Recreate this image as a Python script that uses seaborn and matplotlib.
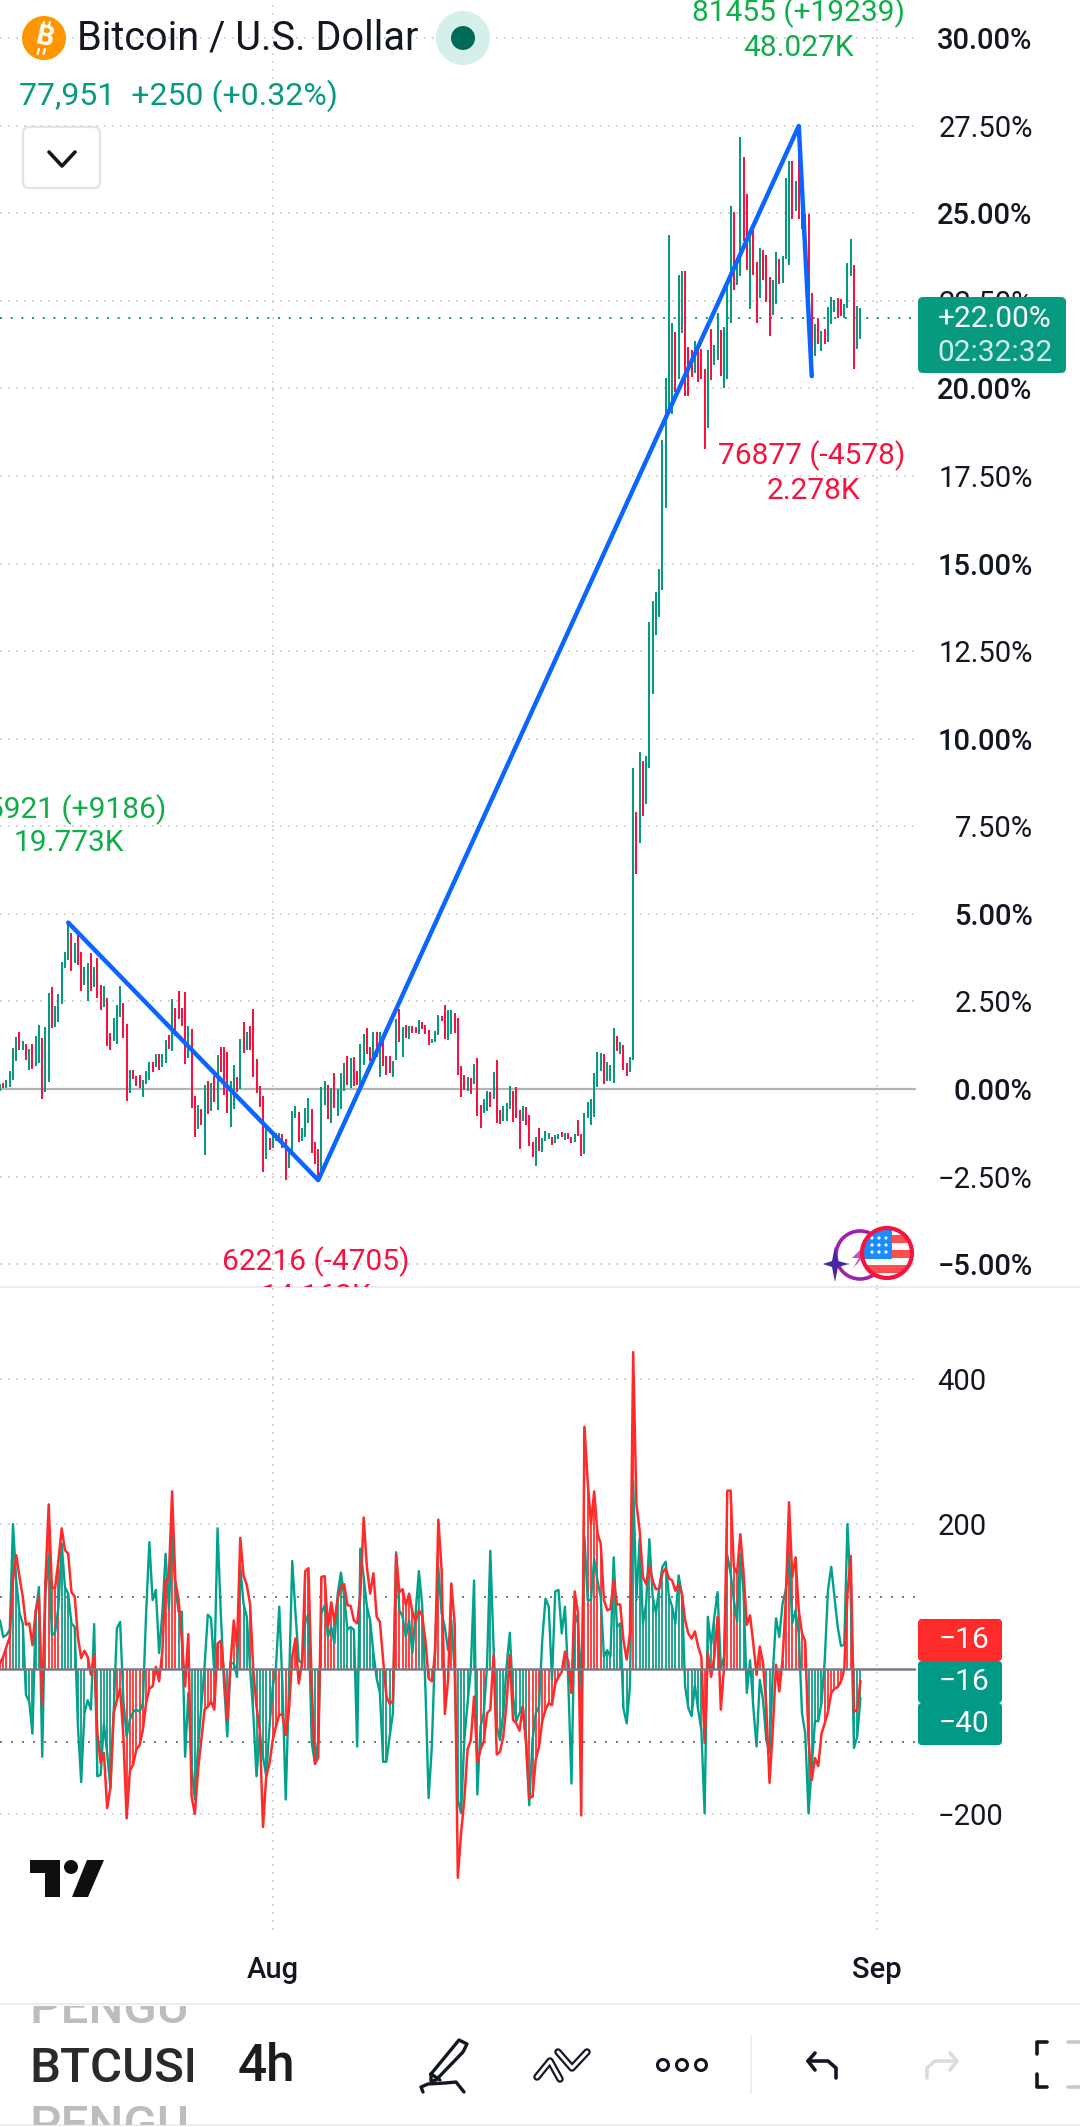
import numpy as np
import seaborn as sns
import matplotlib.pyplot as plt
from matplotlib.lines import Line2D
from matplotlib.patches import Circle, FancyBboxPatch, Polygon, Rectangle
from matplotlib.transforms import Affine2D

W, H = 1080, 2127

# 4h bars, percent from the chart origin
bar_high = [0.13,0.17,0.26,0.51,1.17,1.48,1.63,1.37,1.28,1.14,
            1.28,1.51,1.83,1.46,1.77,2.74,2.91,2.37,2.71,3.63,
            3.91,4.75,4.45,4.17,4.40,3.91,3.48,3.60,3.88,3.48,
            3.74,2.97,2.94,2.60,1.60,2.03,2.40,2.94,2.45,1.86,
            0.54,0.54,0.37,0.40,0.26,0.51,0.77,0.77,1.00,1.00,
            1.00,1.40,1.54,2.57,2.31,2.80,2.31,2.77,1.80,1.71,
            -0.20,-0.46,-0.57,0.11,0.23,0.17,0.37,0.97,1.20,1.20,
            1.06,0.23,0.69,0.34,1.43,1.91,1.63,1.80,2.28,0.86,
            0.09,-0.20,-1.00,-1.40,-1.28,-1.26,-1.26,-1.28,-1.43,-1.68,
            -0.63,-0.49,-0.66,-1.11,-0.54,-0.26,-0.57,-1.51,-1.71,0.06,
            0.23,0.11,0.03,0.46,0.00,0.46,0.74,0.94,0.88,0.91,
            0.51,1.28,1.57,1.74,1.20,1.63,1.63,1.63,1.43,0.94,
            0.94,0.80,2.00,2.28,1.77,1.83,1.80,1.80,1.77,1.97,
            1.91,1.83,1.68,1.43,1.66,2.11,2.08,2.40,2.26,2.26,
            2.17,2.03,0.66,0.40,0.34,0.31,0.71,0.88,-0.46,-0.29,
            -0.06,-0.09,0.49,0.83,-0.60,-0.49,-0.40,0.09,-0.06,0.06,
            -0.60,-0.49,-0.51,-0.74,-1.51,-1.37,-1.11,-1.40,-1.20,-1.26,
            -1.37,-1.31,-1.28,-1.23,-1.26,-1.26,-1.37,-1.28,-0.88,-1.28,
            -0.69,-0.37,-0.29,0.46,1.06,1.03,1.00,0.77,0.69,1.74,
            1.51,1.34,1.26,0.74,0.91,9.16,7.90,9.62,9.36,9.50,
            13.33,13.93,14.19,14.84,18.53,20.30,24.38,21.87,21.61,23.24,
            23.35,23.35,21.18,21.09,21.35,21.24,21.12,20.55,21.09,21.69,
            21.24,22.15,21.67,21.75,22.95,25.20,25.03,23.72,27.17,26.60,
            25.55,24.49,24.52,23.61,24.01,23.95,23.81,23.18,23.09,23.89,
            23.69,23.78,26.00,26.49,26.49,25.92,27.49,25.20,24.98,24.98,
            22.72,21.84,22.01,21.64,21.69,22.32,22.61,22.52,22.58,22.55,
            22.41,23.58,24.26,23.52,22.35,22.29]
bar_low = [-0.05,0.02,0.02,0.06,0.26,0.80,1.11,1.11,0.83,0.54,
           0.57,0.67,0.74,-0.29,-0.09,0.20,1.74,1.77,1.91,2.43,
           3.45,3.68,3.37,3.60,3.54,2.80,2.97,2.51,2.80,2.91,
           2.60,2.26,2.34,1.23,1.11,1.37,1.28,2.06,1.46,-0.34,
           -0.11,0.29,0.09,0.03,-0.23,0.14,0.26,0.49,0.63,0.54,
           0.63,0.74,1.14,1.08,1.51,2.00,1.80,0.71,0.88,-0.54,
           -1.37,-1.14,-1.03,-1.88,-0.71,-0.63,-0.37,-0.60,0.49,-0.17,
           -0.69,-1.08,-0.57,-0.09,0.00,1.03,1.11,1.11,0.34,-0.11,
           -0.51,-2.37,-2.00,-1.74,-1.68,-1.48,-1.48,-1.68,-2.60,-2.26,
           -1.86,-0.83,-1.51,-1.48,-1.37,-0.97,-1.83,-2.14,-2.60,-2.41,
           -0.46,-0.86,-0.97,-0.54,-0.77,-0.57,-0.06,0.11,0.03,0.09,
           0.11,-0.09,0.69,1.00,0.80,0.88,0.91,0.34,0.66,0.40,
           0.46,0.34,0.83,1.34,0.91,1.46,1.43,1.60,1.60,1.57,
           1.71,1.57,1.26,1.31,1.34,1.54,1.94,1.43,1.40,1.57,
           1.60,0.40,-0.23,-0.03,-0.06,-0.14,0.14,-0.77,-1.11,-0.69,
           -0.63,-0.51,-0.29,-0.97,-1.00,-0.91,-0.91,-0.57,-0.94,-0.83,
           -1.71,-0.91,-1.03,-1.63,-1.94,-2.20,-1.77,-1.80,-1.48,-1.43,
           -1.60,-1.54,-1.43,-1.37,-1.46,-1.43,-1.54,-1.51,-1.34,-1.91,
           -1.86,-0.83,-1.03,-0.80,0.06,0.51,0.14,0.23,0.23,0.17,
           1.08,1.00,0.54,0.37,0.49,0.83,6.14,7.02,7.79,8.14,
           9.16,11.28,12.96,13.47,14.25,16.60,19.33,19.27,19.90,20.27,
           21.58,19.78,19.78,20.32,20.44,20.18,20.27,18.27,18.87,20.24,
           20.67,20.81,20.35,20.01,20.27,21.87,22.81,22.95,23.21,24.21,
           23.38,22.26,23.24,21.87,22.58,23.09,22.46,21.49,22.09,22.41,
           22.98,23.01,23.69,23.52,24.83,25.06,24.83,24.55,23.72,22.55,
           20.35,20.92,21.27,21.07,21.27,21.32,21.84,22.18,22.01,22.06,
           22.01,22.29,23.21,20.55,21.12,21.40]
bar_dir = ("GRGGGGRGRG" "RGGRGGRGGG" "GGRGRRGGRG" "RRGRRGGGRR" "GRRRGGGRGR"
           "GGRGRRRRGR" "RGRGRGRGRR" "RGGRGRGRRR" "RRGRGGGRRG" "GGRGGGRRRG"
           "GRGRGGGRGR" "RGGRRGRGRR" "RGGRGRGRRG" "RRRGGGRRGG" "RRRRGRGRRG"
           "GRGRRGGGRR" "RGRRRGRGGG" "RGGRGRRGRR" "GGGGGGRGGG" "RGRRGGRGRG"
           "GGGGGGGGRG" "GRRRGRRRGR" "GGRGGGRGGR" "RGRRGRRRGG" "RGGGRGRRRR"
           "RGRGRGGGRR" "GGGRGG")

zigzag_bars = [22, 99, 247, 251]
zigzag_pct = [4.75, -2.60, 27.49, 20.35]
current_pct = 22.0

osc_green = [67,44,47,54,200,122,77,63,-36,-45,
             -89,77,113,-121,104,157,46,51,86,173,
             113,104,63,58,-79,-156,-61,-43,-56,62,
             -148,-146,-75,-116,-164,-61,56,65,-43,-93,
             -70,-59,-56,-59,-47,77,175,95,109,22,
             77,159,83,184,113,79,79,-121,-33,-134,
             -180,-107,-52,3,75,70,-6,194,77,-20,
             -93,8,8,-11,141,90,72,3,-61,-148,
             -89,-121,-148,-79,-24,3,86,-24,-180,-24,
             149,77,12,8,63,77,-102,-130,-98,77,
             88,44,58,35,104,133,100,54,58,54,
             -107,166,127,86,67,22,-13,-33,-128,-128,
             -93,-61,161,81,72,44,67,22,77,135,
             90,-24,-178,-107,31,140,77,58,26,67,
             -1,-180,-199,-98,-47,-1,122,-173,-79,-61,
             5,163,31,-79,-98,-61,3,50,-38,-72,
             -61,-52,-98,-188,-98,-61,-52,40,97,86,
             -15,107,109,49,86,-15,-158,77,63,-24,
             182,95,95,152,122,100,17,26,17,154,
             58,63,-54,-75,-24,260,95,180,63,90,
             179,100,77,111,141,148,100,86,63,129,
             104,-24,-54,-65,-22,-56,-84,-199,72,33,
             72,106,1,17,157,132,95,65,159,104,
             -33,12,-52,-107,-15,-43,-98,-116,-6,70,
             44,90,109,159,63,81,49,-61,-89,-199,
             -134,-72,-72,-47,12,109,141,100,58,32,
             33,200,104,-109,-93,-40]
osc_red = [8,17,31,44,122,157,127,100,61,63,
           33,81,99,-50,122,227,111,113,150,194,
           164,159,106,100,44,15,25,17,-8,19,
           -89,-130,-116,-192,-164,-61,-43,-27,-93,-206,
           -141,-132,-111,-105,-84,-47,-27,-24,3,-17,
           24,122,127,245,122,95,40,-24,48,-176,
           -200,-139,-98,-56,-52,-45,-56,35,39,-6,
           -70,8,67,31,181,129,116,90,-1,-52,
           -84,-218,-148,-130,-98,-79,-63,-63,-91,-56,
           17,42,-20,8,135,139,-24,-131,-122,127,
           128,58,92,65,97,114,117,88,87,67,
           63,104,209,140,104,132,72,65,12,-38,
           -48,-44,158,106,110,88,104,79,65,81,
           74,40,-13,-17,22,206,137,-62,-15,118,
           63,-288,-226,-180,-111,-98,-38,-128,-111,-100,
           -61,-56,19,-118,-114,-93,-47,19,-70,-75,
           -85,-52,-102,-178,-176,-125,-107,-72,-56,-47,
           -50,-20,-11,-4,24,10,-33,107,77,-202,
           334,258,200,245,187,173,95,81,83,122,
           89,89,40,13,49,437,228,191,127,117,
           141,122,110,111,132,139,125,122,108,117,
           104,67,49,42,52,31,17,-102,22,-11,
           17,72,-56,3,246,246,141,132,186,132,
           61,74,35,-8,31,8,-52,-157,-84,6,
           -31,12,95,230,127,154,81,49,38,-98,
           -153,-123,-134,-89,-75,-59,-33,-27,-25,-17,
           -1,104,156,-59,-56,-16]
# which series owns the column at each bar
column_owner = ("RRRRGGGGGG" "GGGGRRRRRG" "GGGGGGGRRR" "GGGGGRRRRR" "RRRRRRRRRR"
                "RRRRRGGRRG" "GGGRRRRRRG" "GGRRRGGRGG" "GGGGRRRRRR" "RRRRRRGGGR"
                "RRRRGGGGGG" "GGGGGGGGGG" "GGRRRRRRRG" "GGRRRRRRRR" "RGGGGGGRRR"
                "GGGGGGGRGG" "GGGRRRRRRR" "RRRRRRRRRR" "RRRRRRGGGG" "GGGGGRGGGG"
                "GGGGGGGGGG" "GGGGGGGRGG" "GRGGRRRRGG" "GGGRRRGGGR" "RRRRRRRRRG"
                "GGGGRRRRRR" "RRRGGG")

price_ticks = [30, 27.5, 25, 22.5, 20, 17.5, 15, 12.5, 10, 7.5, 5, 2.5, 0, -2.5, -5]
osc_ticks = [400, 200, -200]
osc_dark_levels = [100, -100]
month_bars = [85, 271]
month_labels = ["Aug", "Sep"]

GREEN = "#089981"
RED = "#f7123f"
LINE_RED = "#ff2a2a"
LINE_GREEN = "#00a28c"
GRID = "#d4d6db"
DARK = "#131722"

sns.set_theme(style="white")
plt.rcParams["font.family"] = ["Roboto", "DejaVu Sans"]

fig = plt.figure(figsize=(W / 100, H / 100), dpi=100)
# image pixels with y going down, for the app chrome around the plots
px = Affine2D().scale(1, -1).translate(0, H)

ax1 = fig.add_axes([0, 1 - 1287 / H, 916 / W, 1287 / H])
ax2 = fig.add_axes([0, 1 - 1930 / H, 916 / W, (1930 - 1288) / H])
bars = np.arange(1, len(bar_high) + 1)
xlim = (1, 1 + 916 / 3.247)


def dotted(ax, color=GRID):
    ax.grid(True, color=color, linewidth=1.44, linestyle=(0, (1, 3)), zorder=0)
    ax.set_axisbelow(True)


# --- price panel
ax1.vlines(bars, bar_low, bar_high, colors=[GREEN if d == "G" else RED for d in bar_dir],
           linewidth=1.45, zorder=3)
ax1.axhline(0, color="#b4b4b4", linewidth=1.6, zorder=2)
ax1.axhline(current_pct, color=GREEN, linewidth=1.4, linestyle=(0, (1, 4.5)), zorder=2)
sns.lineplot(x=zigzag_bars, y=zigzag_pct, ax=ax1, color="#0a66ff", linewidth=3.2,
             errorbar=None, sort=False, legend=False, zorder=4)
ax1.set_xlim(*xlim)
ax1.set_ylim(-198 / 35.03, 1089 / 35.03)
ax1.set_xticks(month_bars)
ax1.set_yticks(price_ticks)
ax1.set_xticklabels([])
ax1.set_yticklabels([("−" if v < 0 else "") + f"{abs(v):.2f}%" for v in price_ticks])
ax1.yaxis.tick_right()
ax1.tick_params(axis="both", length=0, labelsize=21, labelcolor=DARK)
ax1.tick_params(axis="y", pad=84)
for v, lab in zip(price_ticks, ax1.get_yticklabels()):
    lab.set_ha("right")
    lab.set_fontweight("medium" if v % 5 == 0 else "normal")
dotted(ax1)

# --- oscillator panel
g = np.array(osc_green)
r = np.array(osc_red)
owner_red = np.array([c == "R" for c in column_owner])
ax2.vlines(bars[~owner_red], 0, g[~owner_red], colors=GREEN, linewidth=1.25, zorder=2)
ax2.vlines(bars[owner_red], 0, r[owner_red], colors=LINE_RED, linewidth=1.25, zorder=2)
for lvl in osc_dark_levels:
    ax2.axhline(lvl, color="#787b86", linewidth=1.44, linestyle=(0, (1, 4.5)), zorder=1)
sns.lineplot(x=bars, y=g, ax=ax2, color=LINE_GREEN, linewidth=1.7, errorbar=None,
             sort=False, legend=False, zorder=3)
sns.lineplot(x=bars, y=r, ax=ax2, color=LINE_RED, linewidth=1.8, errorbar=None,
             sort=False, legend=False, zorder=4)
ax2.axhline(0, color="#787b86", linewidth=1.8, zorder=5)
ax2.set_xlim(*xlim)
ax2.set_ylim(-261 / 0.725, 381 / 0.725)
ax2.set_xticks(month_bars)
ax2.set_xticklabels(month_labels, fontweight="medium")
ax2.set_yticks(osc_ticks)
ax2.set_yticklabels([("−" if v < 0 else "") + str(abs(v)) for v in osc_ticks])
ax2.yaxis.tick_right()
ax2.tick_params(axis="y", length=0, pad=15.5, labelsize=21, labelcolor=DARK)
ax2.tick_params(axis="x", length=0, pad=19, labelsize=21, labelcolor=DARK)
dotted(ax2)

for ax in (ax1, ax2):
    sns.despine(ax=ax, left=True, right=True, top=True, bottom=True)
    ax.patch.set_alpha(0)


def put(x, y, s, **kw):
    kw.setdefault("ha", "center")
    kw.setdefault("va", "center")
    kw.setdefault("zorder", 6)
    return fig.text(x, y, s, transform=px, **kw)


def rect(x0, y0, x1, y1, color, round_px=0, **kw):
    kw.setdefault("zorder", 5)
    if round_px:
        p = FancyBboxPatch((x0, y0), x1 - x0, y1 - y0, boxstyle=f"round,pad=0,rounding_size={round_px}",
                           fc=color, ec=kw.pop("ec", "none"), lw=kw.pop("lw", 0), transform=px, **kw)
    else:
        p = Rectangle((x0, y0), x1 - x0, y1 - y0, fc=color, ec="none", transform=px, **kw)
    return fig.add_artist(p)


def stroke(xs, ys, color=DARK, lw=2.4, **kw):
    kw.setdefault("zorder", 6)
    kw.setdefault("solid_capstyle", "round")
    kw.setdefault("solid_joinstyle", "round")
    return fig.add_artist(Line2D(xs, ys, color=color, lw=lw, transform=px, **kw))


def disc(x, y, rad, color, **kw):
    kw.setdefault("zorder", 5)
    return fig.add_artist(Circle((x, y), rad, fc=color, ec=kw.pop("ec", "none"),
                                 lw=kw.pop("lw", 0), transform=px, **kw))


# --- header
disc(44, 38, 22, "#ff9600")
# no installed family has the bitcoin sign, so a tilted B with its two bars
put(44, 38, "B", color="white", fontsize=20, fontweight="bold", rotation=-12)
for x in (44, 50):
    stroke([x, x - 1.5], [22, 27], color="white", lw=1.6)
    stroke([x - 5, x - 6.5], [49, 54], color="white", lw=1.6)
put(77, 38, "Bitcoin / U.S. Dollar", ha="left", color=DARK, fontsize=28.5)
disc(463, 38, 27, "#d5f0ea")
disc(463, 38, 12, "#006b5a", zorder=6)
put(19, 96, "77,951  +250 (+0.32%)", ha="left", color=GREEN, fontsize=23)
rect(23, 127, 100, 188, "white", round_px=6, ec="#e0e3eb", lw=1.6)
stroke([49, 62, 75], [152, 166, 152], lw=2.6)

# --- pivot labels
PIVOT_UP = "#0fae4a"
PIVOT_DOWN = "#f7123f"
put(799, 13, "81455 (+19239)", color=PIVOT_UP, fontsize=21.5)
put(799, 48, "48.027K", color=PIVOT_UP, fontsize=21.5)
put(812, 456, "76877 (-4578)", color=PIVOT_DOWN, fontsize=21.5)
put(813, 491, "2.278K", color=PIVOT_DOWN, fontsize=21.5)
put(68, 810, "65921 (+9186)", color=PIVOT_UP, fontsize=21.5)
put(69, 843, "19.773K", color=PIVOT_UP, fontsize=21.5)
put(316, 1262, "62216 (-4705)", color=PIVOT_DOWN, fontsize=21.5)
t = put(316, 1297, "14.162K", color=PIVOT_DOWN, fontsize=21.5)
t.set_clip_path(Rectangle((0, 0), W, 1287, transform=px))

# --- last price tags
rect(918, 297, 1066, 373, GREEN, round_px=5)
put(995, 319, "+22.00%", color="white", fontsize=21.5)
put(995, 353, "02:32:32", color="#cdeee8", fontsize=21.5)
rect(918, 1619, 1002, 1661, "#ff2a2a", round_px=4)
rect(918, 1661, 1002, 1703, "#009a86", round_px=4)
rect(918, 1703, 1002, 1745, "#009a86", round_px=4)
put(964, 1640, "−16", color="white", fontsize=21.5)
put(964, 1682, "−16", color="white", fontsize=21.5)
put(964, 1724, "−40", color="white", fontsize=21.5)

# --- events icons near the axis
disc(860, 1255, 24, "none", ec="#a020b0", lw=2.6)
fig.add_artist(Polygon([(835, 1246), (838, 1261), (849, 1264), (838, 1267), (835, 1282),
                        (832, 1267), (823, 1264), (832, 1261)], fc="#4527a0", ec="none",
                       transform=px, zorder=6))
fig.add_artist(Polygon([(862, 1248), (852, 1258), (859, 1258), (853, 1268), (866, 1254), (860, 1254)],
                       fc="#c050d0", ec="none", transform=px, zorder=6))
disc(887, 1253, 25, "#f7f9fd", zorder=7)
clip = Circle((887, 1253), 23.5, transform=px)
for y0 in (1235, 1250, 1265):
    s = rect(863, y0, 911, y0 + 8, "#ff4d4d", zorder=7)
    s.set_clip_path(clip)
s = rect(863, 1230, 892, 1259, "#1a8cff", zorder=7)
s.set_clip_path(clip)
for yy in (1238, 1245, 1252):
    for xx in (872, 879, 886):
        disc(xx, yy, 1.6, "white", zorder=7)
disc(887, 1253, 25, "none", ec="#f7123f", lw=3.0, zorder=8)

# --- logo
fig.add_artist(Polygon([(30, 1860), (60, 1860), (60, 1897), (45, 1897), (45, 1873), (30, 1873)],
                       fc="#0f0f0f", ec="none", transform=px, zorder=6))
disc(71, 1867, 7, "#0f0f0f")
fig.add_artist(Polygon([(87, 1860), (104, 1860), (88, 1897), (72, 1897)], fc="#0f0f0f", ec="none",
                       transform=px, zorder=6))

# --- separators
for y in (1287, 2004, 2125):
    rect(0, y - 1, W, y + 1, "#ececee", zorder=2)

# --- bottom toolbar
sym_clip = Rectangle((29, 2006), 164, 119, transform=px)
for y, c, s in ((2010, "#bdbdbd", "PENGU"), (2069, "#2a2a2a", "BTCUSD"), (2127, "#bdbdbd", "PENGU")):
    t = put(29, y, s, ha="left", color=c, fontsize=35.5, fontweight="medium")
    t.set_clip_path(sym_clip)
put(266, 2067, "4h", color="#1c1c1c", fontsize=37, fontweight="medium")

# pencil
stroke([431, 459, 467, 463, 436, 431, 431], [2074, 2040, 2044, 2052, 2080, 2081, 2074], lw=2.4)
stroke([431, 440], [2074, 2080], lw=2.4)
stroke([423, 421, 428, 445, 456, 464], [2092, 2087, 2084, 2083, 2082, 2092], lw=2.4)
# zigzag tool, outlined chevrons
for xs, ys in (([537, 550, 560], [2077, 2061, 2079]), ([558, 572, 587], [2052, 2068, 2052])):
    stroke(xs, ys, lw=5.4)
    stroke(xs, ys, color="white", lw=2.2, zorder=7)
# three dots
for x in (663, 682, 701):
    disc(x, 2065, 5.5, "none", ec=DARK, lw=2.2, zorder=6)
rect(750, 2035, 752, 2094, "#eeeeee", zorder=2)
# undo / redo
stroke([836, 836, 828, 808], [2078, 2068, 2061, 2061], lw=2.6)
stroke([815, 808, 815], [2053, 2061, 2070], lw=2.6)
stroke([927, 927, 935, 957], [2078, 2068, 2061, 2061], lw=2.6, color="#dcdcdc")
stroke([950, 957, 950], [2053, 2061, 2070], lw=2.6, color="#dcdcdc")
# fullscreen corners
stroke([1047, 1037, 1037], [2042, 2042, 2054], lw=2.6)
stroke([1037, 1037, 1047], [2074, 2087, 2087], lw=2.6)
stroke([1068, 1080], [2042, 2042], lw=2.6, color="#c8c8c8")
stroke([1068, 1080], [2087, 2087], lw=2.6, color="#c8c8c8")

fig.savefig("out.png", dpi=100, facecolor="white")
